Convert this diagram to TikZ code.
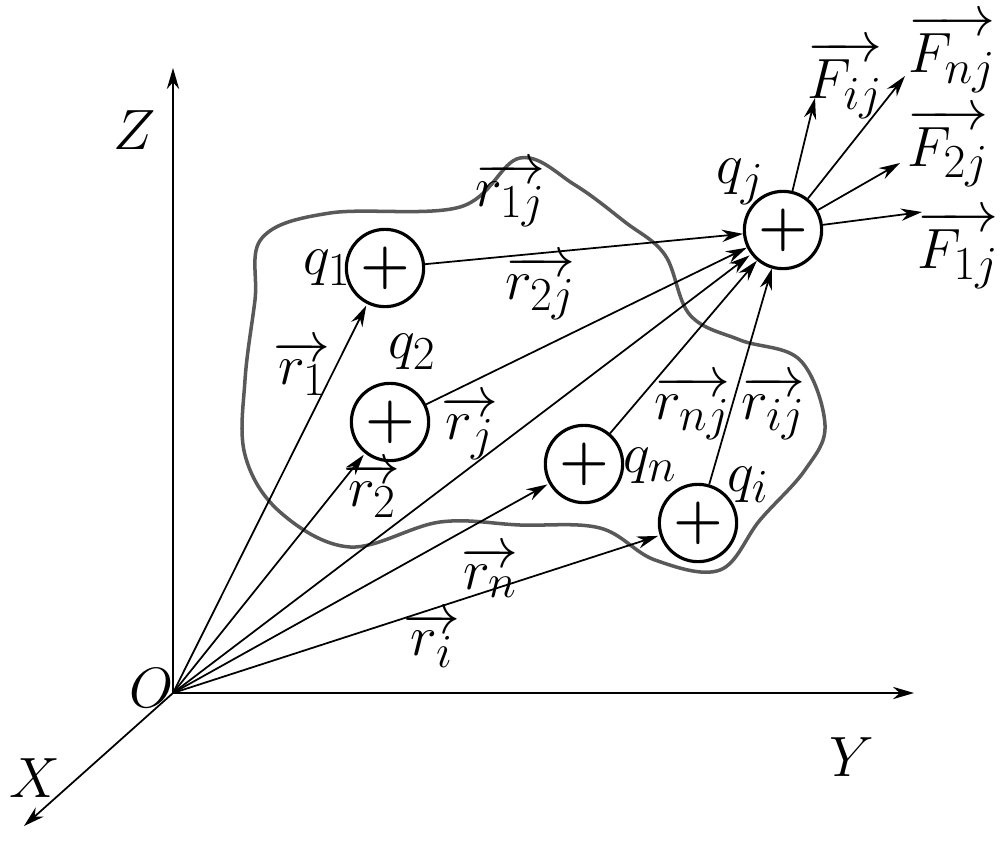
\documentclass[tikz,border=0pt]{standalone}
\usepackage{graphicx}
\usetikzlibrary{arrows.meta}
\newcommand{\mylb}[1]{\scalebox{1.3}{$\displaystyle #1$}}
\begin{document}
\begin{tikzpicture}[x=0.02cm,y=-0.02cm,
  ar/.style={-{Stealth[length=12pt,width=7pt]},line width=1pt},
  chg/.style={circle,draw,line width=1.8pt,minimum size=44pt,inner sep=0pt,font=\Huge\bfseries},
  lab/.style={font=\Huge,inner sep=1pt}]
\useasboundingbox (0,0) rectangle (1005,846);
\coordinate (O) at (173,693);
\draw[ar] (O) -- (173,68) coordinate (Z);
\draw[ar] (O) -- (914,693) coordinate (Y);
\draw[ar] (O) -- (24,826) coordinate (X);
\draw[gray!70!black,line width=2pt] plot[smooth cycle,tension=0.6] coordinates {
 (262,238) (330,213) (460,207) (520,158) (575,185) (625,222) (665,255) (690,315) (740,340) (800,360) (825,425) (805,470) (760,520) (720,570) (655,560) (600,528) (520,525) (440,522) (350,547) (280,512) (245,455) (245,380) (255,300)};
\node[chg,fill=white] (q1) at (385,268) {\scalebox{1.3}{+}};
\node[chg,fill=white] (q2) at (390,422) {\scalebox{1.3}{+}};
\node[chg,fill=white] (qn) at (584,464) {\scalebox{1.3}{+}};
\node[chg,fill=white] (qi) at (698,523) {\scalebox{1.3}{+}};
\node[chg,fill=white] (qj) at (783,230) {\scalebox{1.3}{+}};
\foreach \n in {q1,q2,qn,qi,qj} \draw[ar,shorten >=1pt] (O) -- (\n);
\foreach \n in {q1,q2,qn,qi} \draw[ar] (\n) -- (qj);
\draw[ar] (qj) -- (815,98) coordinate (Fij);
\draw[ar] (qj) -- (905,76) coordinate (Fnj);
\draw[ar] (qj) -- (900,163) coordinate (F2j);
\draw[ar] (qj) -- (922,212) coordinate (F1j);
\node[lab] (lZ) at (135,130) {\mylb{Z}};
\node[lab] (lO) at (152,688) {\mylb{O}};
\node[lab] (lY) at (852,757) {\mylb{Y}};
\node[lab] (lX) at (35,778) {\mylb{X}};
\node[lab] (lFij) at (845,80) {\mylb{\overrightarrow{F_{ij}}}};
\node[lab] (lFnj) at (952,54) {\mylb{\overrightarrow{F_{nj}}}};
\node[lab] (lF2j) at (948,148) {\mylb{\overrightarrow{F_{2j}}}};
\node[lab] (lF1j) at (958,250) {\mylb{\overrightarrow{F_{1j}}}};
\node[lab] (lqj) at (740,182) {\mylb{q_j}};
\node[lab] (lq1) at (327,268) {\mylb{q_1}};
\node[lab] (lq2) at (412,352) {\mylb{q_2}};
\node[lab] (lqn) at (650,466) {\mylb{q_n}};
\node[lab] (lqi) at (748,485) {\mylb{q_i}};
\node[lab] (lr1) at (302,368) {\mylb{\overrightarrow{r_1}}};
\node[lab] (lr2) at (372,490) {\mylb{\overrightarrow{r_2}}};
\node[lab] (lrj) at (470,428) {\mylb{\overrightarrow{r_j}}};
\node[lab] (lrn) at (490,572) {\mylb{\overrightarrow{r_n}}};
\node[lab] (lri) at (432,640) {\mylb{\overrightarrow{r_i}}};
\node[lab] (lr1j) at (510,195) {\mylb{\overrightarrow{r_{1j}}}};
\node[lab] (lr2j) at (540,288) {\mylb{\overrightarrow{r_{2j}}}};
\node[lab] (lrnj) at (692,408) {\mylb{\overrightarrow{r_{nj}}}};
\node[lab] (lrij) at (773,408) {\mylb{\overrightarrow{r_{ij}}}};
\end{tikzpicture}
\end{document}
